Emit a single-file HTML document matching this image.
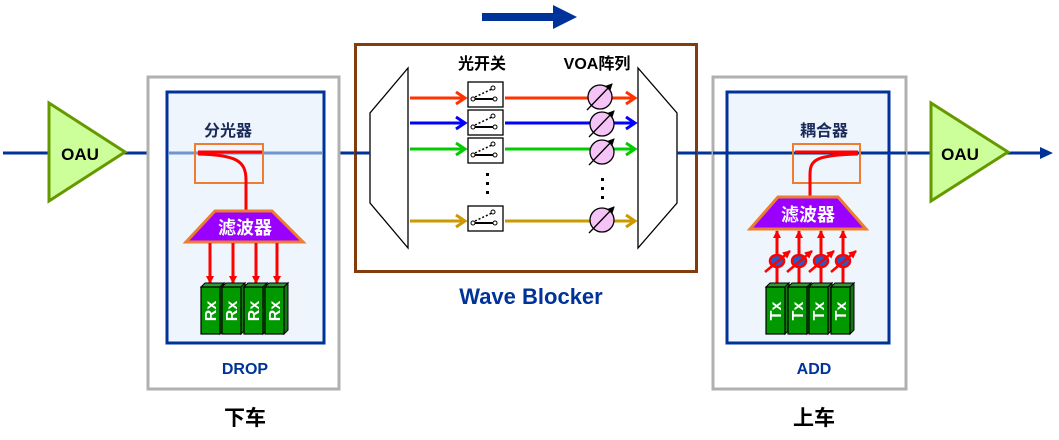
<!DOCTYPE html>
<html><head><meta charset="utf-8"><style>
html,body{margin:0;padding:0;background:#fff;}
svg{display:block;}
text{font-family:"Liberation Sans","Noto Sans CJK SC",sans-serif;font-weight:bold;}
</style></head><body>
<svg width="1059" height="440" viewBox="0 0 1059 440" xmlns="http://www.w3.org/2000/svg">
<defs>
<marker id="ar" markerWidth="8" markerHeight="8" refX="7" refY="4" orient="auto" markerUnits="userSpaceOnUse"><path d="M0,0 L8,4 L0,8 z" fill="red"/></marker>
<marker id="ar2" markerWidth="7" markerHeight="7" refX="6" refY="3.5" orient="auto" markerUnits="userSpaceOnUse"><path d="M0,0 L7,3.5 L0,7 z" fill="#000"/></marker>
<g id="sw">
<rect x="0" y="0" width="35" height="25" fill="#fff" stroke="#000" stroke-width="1.3"/>
<line x1="6" y1="17" x2="25" y2="17" stroke="#000" stroke-width="2"/>
<circle cx="5" cy="17" r="2" fill="#fff" stroke="#000"/><circle cx="27" cy="17" r="2" fill="#fff" stroke="#000"/>
<line x1="7" y1="15" x2="24" y2="7" stroke="#000" stroke-width="1.5" stroke-dasharray="2,2"/>
<circle cx="25" cy="6" r="2" fill="#fff" stroke="#000"/>
</g>
<g id="voa">
<circle cx="0" cy="0" r="12" fill="#f6c3f6" stroke="#000" stroke-width="1.3"/>
<line x1="-13" y1="13" x2="12" y2="-13" stroke="#000" stroke-width="1.3" marker-end="url(#ar2)"/>
</g>
<g id="rx">
<path d="M0,4 L4,0 L23,0 L19,4 z" fill="#2f9a2f" stroke="#000" stroke-width="1"/>
<path d="M19,4 L23,0 L23,47 L19,51 z" fill="#117711" stroke="#000" stroke-width="1"/>
<rect x="0" y="4" width="19" height="47" fill="#009900" stroke="#000" stroke-width="1.2"/>
</g>
</defs>

<line x1="3" y1="153" x2="1042" y2="153" stroke="#003399" stroke-width="3"/>
<path d="M1040,147 L1053,153 L1040,159 z" fill="#003399"/>

<rect x="482" y="13" width="72" height="8" fill="#003399"/>
<path d="M553,5 L577,17 L553,29 z" fill="#003399"/>

<polygon points="49,103 49,201 125,152" fill="#ccff99" stroke="#669900" stroke-width="3"/>
<text x="80" y="160" font-size="17" text-anchor="middle">OAU</text>
<polygon points="931,103 931,201 1008,152" fill="#ccff99" stroke="#669900" stroke-width="3"/>
<text x="960" y="160" font-size="17" text-anchor="middle">OAU</text>

<rect x="148" y="77" width="191" height="312" fill="#fff" stroke="#b0b0b0" stroke-width="3"/>
<rect x="167" y="92" width="157" height="251" fill="#eef5fc" stroke="#003399" stroke-width="3"/>
<line x1="168" y1="153" x2="323" y2="153" stroke="#7094cc" stroke-width="3"/>
<text x="228" y="136" font-size="16" text-anchor="middle" fill="#1a2a5a">分光器</text>
<rect x="195" y="144" width="68" height="39" fill="none" stroke="#ed7d31" stroke-width="2"/>
<line x1="198" y1="152" x2="262" y2="152" stroke="red" stroke-width="3"/>
<path d="M198,154 C235,155 246,160 246,180 L246,212" fill="none" stroke="red" stroke-width="3"/>
<polygon points="215,211 272,211 303,242 186,242" fill="#9900ff" stroke="#ed7d31" stroke-width="3"/>
<text x="245" y="234" font-size="18" text-anchor="middle" fill="#fff">滤波器</text>
<g stroke="red" stroke-width="3" marker-end="url(#ar)">
<line x1="210" y1="243" x2="210" y2="283"/><line x1="233" y1="243" x2="233" y2="283"/>
<line x1="256" y1="243" x2="256" y2="283"/><line x1="277" y1="243" x2="277" y2="283"/>
</g>
<use href="#rx" x="201" y="283"/><use href="#rx" x="222" y="283"/><use href="#rx" x="244" y="283"/><use href="#rx" x="265" y="283"/>
<g fill="#fff" font-size="16">
<text transform="translate(216,311) rotate(-90)" text-anchor="middle">Rx</text>
<text transform="translate(237,311) rotate(-90)" text-anchor="middle">Rx</text>
<text transform="translate(259,311) rotate(-90)" text-anchor="middle">Rx</text>
<text transform="translate(280,311) rotate(-90)" text-anchor="middle">Rx</text>
</g>
<text x="245" y="374" font-size="16" text-anchor="middle" fill="#003399">DROP</text>
<text x="245" y="425" font-size="21" text-anchor="middle">下车</text>

<rect x="355.5" y="44.5" width="341" height="227" fill="#fff" stroke="#843c0c" stroke-width="3"/>
<polygon points="408,68 408,248 370,203 370,113" fill="#fff" stroke="#000" stroke-width="1.3"/>
<polygon points="638,68 638,248 677,203 677,113" fill="#fff" stroke="#000" stroke-width="1.3"/>
<line x1="355" y1="153" x2="370" y2="153" stroke="#003399" stroke-width="3"/>
<line x1="677" y1="153" x2="697" y2="153" stroke="#003399" stroke-width="3"/>
<text x="482" y="69" font-size="16" text-anchor="middle">光开关</text>
<text x="597" y="69" font-size="16" text-anchor="middle">VOA阵列</text>
<g stroke-width="3" fill="none">
<line x1="410" y1="98" x2="464" y2="98" stroke="#ff3300"/><path d="M456,92 L465,98 L456,104" stroke="#ff3300"/>
<line x1="505" y1="98" x2="634" y2="98" stroke="#ff3300"/><path d="M626,92 L635,98 L626,104" stroke="#ff3300"/>
<line x1="410" y1="123" x2="464" y2="123" stroke="#0000ff"/><path d="M456,117 L465,123 L456,129" stroke="#0000ff"/>
<line x1="505" y1="123" x2="634" y2="123" stroke="#0000ff"/><path d="M626,117 L635,123 L626,129" stroke="#0000ff"/>
<line x1="410" y1="149" x2="464" y2="149" stroke="#00cc00"/><path d="M456,143 L465,149 L456,155" stroke="#00cc00"/>
<line x1="505" y1="149" x2="634" y2="149" stroke="#00cc00"/><path d="M626,143 L635,149 L626,155" stroke="#00cc00"/>
<line x1="410" y1="221" x2="464" y2="221" stroke="#cc9900"/><path d="M456,215 L465,221 L456,227" stroke="#cc9900"/>
<line x1="505" y1="221" x2="634" y2="221" stroke="#cc9900"/><path d="M626,215 L635,221 L626,227" stroke="#cc9900"/>
</g>
<use href="#sw" x="468" y="82"/><use href="#sw" x="468" y="110"/><use href="#sw" x="468" y="138"/><use href="#sw" x="468" y="206"/>
<use href="#voa" x="600" y="97"/><use href="#voa" x="602" y="124"/><use href="#voa" x="602" y="152"/><use href="#voa" x="602" y="220"/>
<g fill="#000"><rect x="486" y="173" width="3" height="3"/><rect x="486" y="182" width="3" height="3"/><rect x="486" y="191" width="3" height="3"/>
<rect x="601" y="178" width="3" height="3"/><rect x="601" y="187" width="3" height="3"/><rect x="601" y="196" width="3" height="3"/></g>
<text x="531" y="304" font-size="22" text-anchor="middle" fill="#003399">Wave Blocker</text>

<rect x="713" y="77" width="193" height="312" fill="#fff" stroke="#b0b0b0" stroke-width="3"/>
<rect x="727" y="92" width="162" height="251" fill="#eef5fc" stroke="#003399" stroke-width="3"/>
<line x1="713" y1="153" x2="906" y2="153" stroke="#003399" stroke-width="3"/>
<text x="824" y="136" font-size="16" text-anchor="middle" fill="#1a2a5a">耦合器</text>
<rect x="793" y="144" width="67" height="39" fill="none" stroke="#ed7d31" stroke-width="2"/>
<line x1="795" y1="152" x2="858" y2="152" stroke="red" stroke-width="3"/>
<path d="M858,154 C815,155 810,160 810,175 L810,198" fill="none" stroke="red" stroke-width="3"/>
<polygon points="778,197 838,197 866,229 750,229" fill="#9900ff" stroke="#ed7d31" stroke-width="3"/>
<text x="808" y="221" font-size="18" text-anchor="middle" fill="#fff">滤波器</text>
<g stroke="red" stroke-width="3" marker-end="url(#ar)">
<line x1="777" y1="285" x2="777" y2="231"/><line x1="799" y1="285" x2="799" y2="231"/>
<line x1="821" y1="285" x2="821" y2="231"/><line x1="843" y1="285" x2="843" y2="231"/>
</g>
<g>
<ellipse cx="777" cy="261" rx="7" ry="6" fill="#1e5fcf" stroke="red" stroke-width="2.5"/>
<ellipse cx="799" cy="261" rx="7" ry="6" fill="#1e5fcf" stroke="red" stroke-width="2.5"/>
<ellipse cx="821" cy="261" rx="7" ry="6" fill="#1e5fcf" stroke="red" stroke-width="2.5"/>
<ellipse cx="843" cy="261" rx="7" ry="6" fill="#1e5fcf" stroke="red" stroke-width="2.5"/>
</g>
<g stroke="red" stroke-width="2.5" marker-end="url(#ar)">
<line x1="765" y1="272" x2="790" y2="251"/><line x1="787" y1="272" x2="812" y2="251"/>
<line x1="809" y1="272" x2="834" y2="251"/><line x1="831" y1="272" x2="856" y2="251"/>
</g>
<use href="#rx" x="766" y="283"/><use href="#rx" x="788" y="283"/><use href="#rx" x="809" y="283"/><use href="#rx" x="831" y="283"/>
<g fill="#fff" font-size="16">
<text transform="translate(781,311) rotate(-90)" text-anchor="middle">Tx</text>
<text transform="translate(803,311) rotate(-90)" text-anchor="middle">Tx</text>
<text transform="translate(824,311) rotate(-90)" text-anchor="middle">Tx</text>
<text transform="translate(846,311) rotate(-90)" text-anchor="middle">Tx</text>
</g>
<text x="814" y="374" font-size="16" text-anchor="middle" fill="#003399">ADD</text>
<text x="814" y="425" font-size="21" text-anchor="middle">上车</text>
</svg>
</body></html>
